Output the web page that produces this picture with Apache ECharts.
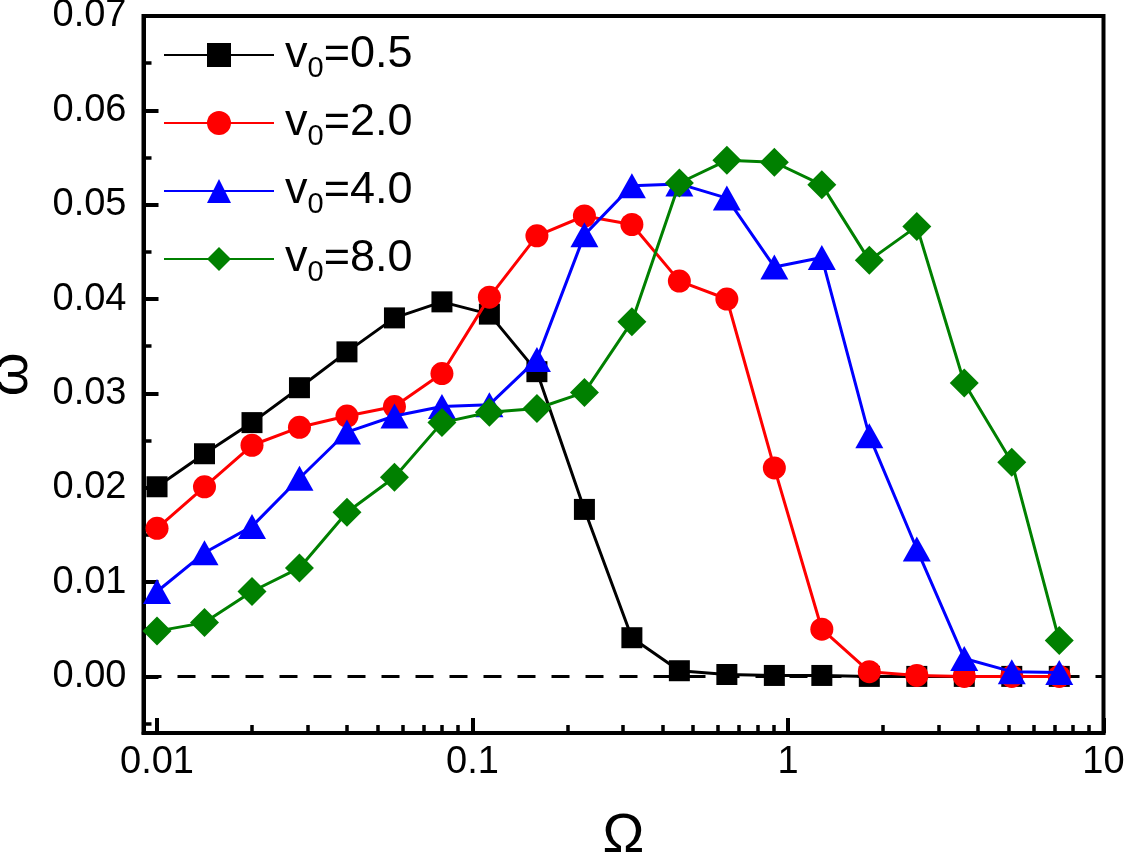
<!DOCTYPE html>
<html>
<head>
<meta charset="utf-8">
<script src="https://cdn.jsdelivr.net/npm/echarts@6/dist/echarts.min.js"></script>
<style>
  html, body { margin: 0; padding: 0; background: #fff; }
  #chart { width: 1125px; height: 863px; }
</style>
</head>
<body>
<div id="chart"></div>
<script>
// ---- data ----
const omega = [0.01, 0.01414, 0.02, 0.02828, 0.04, 0.05657, 0.08, 0.1131, 0.16, 0.2263,
               0.32, 0.4525, 0.64, 0.9051, 1.28, 1.810, 2.56, 3.620, 5.12, 7.241];
const v05 = [0.0201, 0.0236, 0.0269, 0.0306, 0.0344, 0.0380, 0.0397, 0.0384, 0.0323, 0.0177,
             0.0041, 0.0006, 0.0002, 0.0001, 0.0001, 0.0000, 0.0000, 0.0000, 0.0000, 0.0000];
const v20 = [0.0157, 0.0201, 0.0245, 0.0264, 0.0276, 0.0286, 0.0321, 0.0402, 0.0467, 0.0488,
             0.0479, 0.0419, 0.0400, 0.0221, 0.0050, 0.0005, 0.0001, 0.0000, 0.0000, 0.0000];
const v40 = [0.0090, 0.0131, 0.0159, 0.0210, 0.0259, 0.0276, 0.0286, 0.0288, 0.0336, 0.0468,
             0.0520, 0.0522, 0.0507, 0.0434, 0.0444, 0.0255, 0.0135, 0.0019, 0.0005, 0.0004];
const v80 = [0.0048, 0.0057, 0.0090, 0.0115, 0.0174, 0.0211, 0.0269, 0.0280, 0.0284, 0.0301,
             0.0376, 0.0523, 0.0547, 0.0545, 0.0521, 0.0441, 0.0477, 0.0311, 0.0227, 0.0038];
const seriesNames = ['v{sub|0}=0.5', 'v{sub|0}=2.0', 'v{sub|0}=4.0', 'v{sub|0}=8.0'];
const xTicks = [0.01, 0.1, 1, 10];
const xMinorTicks = [0.02, 0.03, 0.04, 0.05, 0.06, 0.07, 0.08, 0.09,
                     0.2, 0.3, 0.4, 0.5, 0.6, 0.7, 0.8, 0.9,
                     2, 3, 4, 5, 6, 7, 8, 9];
const yTicks = [0, 0.01, 0.02, 0.03, 0.04, 0.05, 0.06, 0.07];
const yMinorTicks = [-0.005, 0.005, 0.015, 0.025, 0.035, 0.045, 0.055, 0.065];
const xName = 'Ω';
const yName = 'ω';

// ---- chart ----
const FONT = "'Liberation Sans', Arial, sans-serif";
const XMIN = 0.00906, XMAX = 10, YMIN = -0.006, YMAX = 0.07;

function pairs(ys) { return omega.map((x, i) => [x, ys[i]]); }

const styles = [
  { color: '#000000', symbol: 'rect', size: 21 },
  { color: '#ff0000', symbol: 'circle', size: 23 },
  { color: '#0000ff', symbol: 'triangle', size: [28, 25] },
  { color: '#008000', symbol: 'diamond', size: 29 }
];
const allData = [v05, v20, v40, v80];

const series = allData.map((ys, i) => ({
  name: seriesNames[i],
  type: 'line',
  xAxisIndex: 0,
  yAxisIndex: 0,
  data: pairs(ys),
  symbol: styles[i].symbol,
  symbolSize: styles[i].size,
  showAllSymbol: true,
  lineStyle: { color: styles[i].color, width: 3 },
  itemStyle: { color: styles[i].color },
  emphasis: { disabled: true },
  animation: false,
  z: 3 + i
}));
series[0].markLine = {
  silent: true,
  symbol: 'none',
  label: { show: false },
  lineStyle: { color: '#000', type: [18, 16], width: 3 },
  data: [{ yAxis: 0 }],
  z: 2
};

const chart = echarts.init(document.getElementById('chart'), null, { renderer: 'canvas' });
chart.setOption({
  animation: false,
  backgroundColor: '#ffffff',
  textStyle: { fontFamily: FONT },
  grid: {
    left: 143.5, right: 21.5, top: 16, bottom: 130,
    containLabel: false,
    outerBoundsMode: 'none',
    show: true, borderColor: '#000', borderWidth: 4, backgroundColor: 'transparent'
  },
  legend: {
    left: 158, top: 22,
    orient: 'vertical',
    itemWidth: 110, itemHeight: 30, itemGap: 12,
    selectedMode: false,
    data: seriesNames,
    textStyle: {
      fontFamily: FONT, fontSize: 45, color: '#000', lineHeight: 56,
      padding: [0, 0, 0, 6],
      rich: {
        sub: { fontFamily: FONT, fontSize: 29, lineHeight: 24, verticalAlign: 'bottom', color: '#000' }
      }
    }
  },
  xAxis: [
    {
      type: 'log', logBase: 10, min: XMIN, max: XMAX, position: 'bottom',
      name: xName, nameLocation: 'middle', nameGap: 76,
      nameTextStyle: { fontFamily: FONT, fontSize: 56, color: '#000' },
      axisLine: { show: true, onZero: false, lineStyle: { color: '#000', width: 4 } },
      axisTick: { show: true, inside: true, length: 15, customValues: xTicks,
                  lineStyle: { color: '#000', width: 4 } },
      axisLabel: { show: true, customValues: xTicks, margin: 11,
                   fontFamily: FONT, fontSize: 38, color: '#000',
                   formatter: v => String(+v.toPrecision(3)) },
      splitLine: { show: false },
      minorTick: { show: false }
    },
    {
      type: 'log', logBase: 10, min: XMIN, max: XMAX, position: 'bottom',
      axisLine: { show: false, onZero: false },
      axisTick: { show: true, inside: true, length: 8, customValues: xMinorTicks,
                  lineStyle: { color: '#000', width: 3.5 } },
      axisLabel: { show: false },
      splitLine: { show: false }
    }
  ],
  yAxis: [
    {
      type: 'value', min: YMIN, max: YMAX, position: 'left',
      name: yName, nameLocation: 'middle', nameGap: 104, nameRotate: 90,
      nameTextStyle: { fontFamily: FONT, fontSize: 56, color: '#000' },
      axisLine: { show: true, onZero: false, lineStyle: { color: '#000', width: 4 } },
      axisTick: { show: true, inside: true, length: 15, customValues: yTicks,
                  lineStyle: { color: '#000', width: 4 } },
      axisLabel: { show: true, customValues: yTicks, margin: 17,
                   fontFamily: FONT, fontSize: 38, color: '#000',
                   formatter: v => v.toFixed(2) },
      splitLine: { show: false }
    },
    {
      type: 'value', min: YMIN, max: YMAX, position: 'left',
      axisLine: { show: false, onZero: false },
      axisTick: { show: true, inside: true, length: 8, customValues: yMinorTicks,
                  lineStyle: { color: '#000', width: 3.5 } },
      axisLabel: { show: false },
      splitLine: { show: false }
    }
  ],
  series: series
});
</script>
</body>
</html>
